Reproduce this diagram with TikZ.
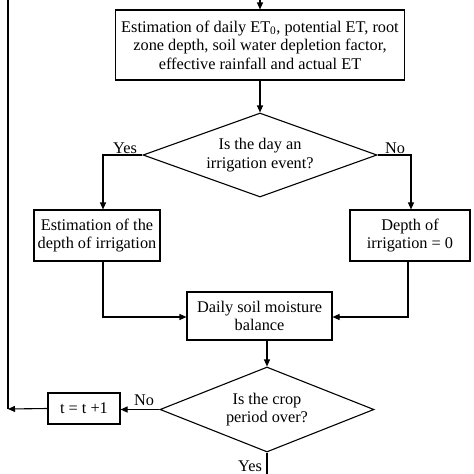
\documentclass[tikz,border=0pt]{standalone}
\usepackage{fontspec}
\setmainfont{Liberation Serif}
\usetikzlibrary{shapes.geometric,arrows.meta}
\begin{document}
\begin{tikzpicture}[x=1pt,y=-1pt,
  every node/.style={font=\fontsize{16.3}{18.5}\selectfont},
  box/.style={draw,line width=1.1pt,rectangle,inner sep=0pt,align=center},
  dia/.style={draw,line width=1.1pt,diamond,inner sep=0pt},
  line/.style={line width=1.1pt},
  arr/.style={line width=1.1pt,-{Triangle[length=7pt,width=6pt]}},
  lbl/.style={inner sep=0pt}]
\useasboundingbox (0,0) rectangle (474,474);
\node[box,minimum width=289pt,minimum height=70pt] (top) at (260,45)
  {Estimation of daily ET\textsubscript{0}, potential ET, root\\zone depth, soil water depletion factor,\\effective rainfall and actual ET};
\node[dia,minimum width=234pt,minimum height=84pt,
  label={[align=center,inner sep=0pt]center:Is the day an\\irrigation event?}] (d1) at (260,155) {};
\node[box,minimum width=126pt,minimum height=51pt] (lb) at (97,235.5)
  {Estimation of the\\depth of irrigation};
\node[box,minimum width=120pt,minimum height=51pt] (rb) at (410,235.5)
  {Depth of\\irrigation = 0};
\node[box,minimum width=145pt,minimum height=48pt] (mb) at (259.5,316)
  {Daily soil moisture\\balance};
\node[dia,minimum width=214pt,minimum height=85pt,
  label={[align=center,inner sep=0pt]center:Is the crop\\period over?}] (d2) at (267,409.5) {};
\node[box,minimum width=72pt,minimum height=31pt] (tb) at (84,408.5)
  {t = t +1};
\node[lbl] (yes1) at (125,148) {Yes};
\node[lbl] (no1) at (395,148) {No};
\node[lbl] (no2) at (144,400) {No};
\node[lbl] (yes2) at (250,466) {Yes};
\coordinate (topin) at (260,0);
\coordinate (ltop) at (8,0);
\coordinate (lbot) at (8,409);
\coordinate (bend1) at (103,155);
\coordinate (bend2) at (411,155);
\coordinate (bend3) at (103,317);
\coordinate (bend4) at (408,317);
\coordinate (endb) at (267,474);
\draw[arr] (topin) -- (top.north);
\draw[arr] (top.south) -- (d1.north);
\draw[arr] (d1.west) -- (bend1) -- (lb.north -| bend1);
\draw[arr] (d1.east) -- (bend2) -- (rb.north -| bend2);
\draw[arr] (lb.south -| bend3) -- (bend3) -- (mb.west |- bend3);
\draw[arr] (rb.south -| bend4) -- (bend4) -- (mb.east |- bend4);
\draw[arr] (mb.south -| d2.north) -- (d2.north);
\draw[arr] (d2.west) -- (tb.east |- d2.west);
\draw[arr] (tb.west) -- (lbot);
\draw[line] (lbot) -- (ltop);
\draw[line] (d2.south) -- (endb);
\end{tikzpicture}
\end{document}
